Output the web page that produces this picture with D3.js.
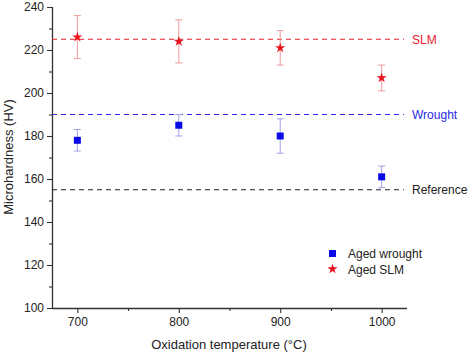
<!DOCTYPE html>
<html><head><meta charset="utf-8">
<script src="https://cdn.jsdelivr.net/npm/d3@7"></script>
<style>body{margin:0;background:#fff;}svg{display:block;font-family:Arial,"Liberation Sans",sans-serif;}</style>
</head><body><svg id="c" width="474" height="357"></svg>
<script>
const temps = [700, 800, 900, 1000];
const wroughtVal = [178, 185, 180, 161];
const wroughtHi = [183, 190, 188, 166];
const wroughtLo = [173, 180, 172, 156];
const slmVal = [226, 224, 221, 207];
const slmHi = [236, 234, 229, 213];
const slmLo = [216, 214, 213, 201];
const refLines = [{label:"SLM", v:225, color:"#e8202a"}, {label:"Wrought", v:190, color:"#2a2ae8"}, {label:"Reference", v:155, color:"#222"}];
const xTicks = [700, 800, 900, 1000];
const yTicks = [100, 120, 140, 160, 180, 200, 220, 240];

const svg = d3.select("#c");
const x = d3.scaleLinear().domain([675, 1025]).range([52, 407]);
const y = d3.scaleLinear().domain([100, 240]).range([308, 7]);

// axes
const gx = svg.append("g").attr("transform","translate(0,308)");
gx.call(d3.axisBottom(x).tickValues(xTicks).tickSize(5).tickPadding(4).tickFormat(d3.format("d")));
gx.append("g").call(d3.axisBottom(x).tickValues([750,850,950]).tickSize(3).tickFormat(""));
const gy = svg.append("g").attr("transform","translate(52,0)");
gy.call(d3.axisLeft(y).tickValues(yTicks).tickSize(5).tickPadding(3));
gy.append("g").call(d3.axisLeft(y).tickValues(d3.range(110,240,20)).tickSize(3).tickFormat(""));
svg.selectAll(".domain").attr("stroke","#333").attr("stroke-width",1.3);
svg.selectAll(".tick line").attr("stroke","#333").attr("stroke-width",1.1);
svg.selectAll(".tick text").attr("font-size",12).attr("fill","#222");
gy.select(".domain").attr("d","M0.5,7V308");
gx.select(".domain").attr("d","M52,0.5H407");
svg.selectAll("g g .domain").remove();

// reference lines
refLines.forEach(r=>{
  svg.append("line").attr("x1",x(675)).attr("x2",x(1022)).attr("y1",y(r.v)).attr("y2",y(r.v))
    .attr("stroke",r.color).attr("stroke-width",1.2).attr("stroke-dasharray","5,4");
  svg.append("text").attr("x",412).attr("y",y(r.v)+4.5).attr("font-size",12).attr("fill",r.color).text(r.label);
});

// error bars
function errBars(vals, hi, lo, color){
  temps.forEach((t,i)=>{
    const g = svg.append("g").attr("stroke",color).attr("stroke-width",1);
    g.append("line").attr("x1",x(t)).attr("x2",x(t)).attr("y1",y(hi[i])).attr("y2",y(lo[i]));
    g.append("line").attr("x1",x(t)-3.5).attr("x2",x(t)+3.5).attr("y1",y(hi[i])).attr("y2",y(hi[i]));
    g.append("line").attr("x1",x(t)-3.5).attr("x2",x(t)+3.5).attr("y1",y(lo[i])).attr("y2",y(lo[i]));
  });
}
errBars(wroughtVal, wroughtHi, wroughtLo, "#a0a0ec");
errBars(slmVal, slmHi, slmLo, "#f09a9a");

const star = d3.symbol().type(d3.symbolStar).size(32);
svg.selectAll(".sq").data(temps).enter().append("rect")
  .attr("x",(d)=>x(d)-3.5).attr("y",(d,i)=>y(wroughtVal[i])-3.5).attr("width",7).attr("height",7).attr("fill","#0a0ae6");
svg.selectAll(".st").data(temps).enter().append("path")
  .attr("d",star).attr("transform",(d,i)=>`translate(${x(d)},${y(slmVal[i])})`).attr("fill","#e8141e");

// legend
svg.append("rect").attr("x",329).attr("y",250).attr("width",7).attr("height",7).attr("fill","#0a0ae6");
svg.append("path").attr("d",star).attr("transform","translate(332.5,269)").attr("fill","#e8141e");
svg.append("text").attr("x",348).attr("y",258).attr("font-size",12).attr("fill","#222").text("Aged wrought");
svg.append("text").attr("x",348).attr("y",274).attr("font-size",12).attr("fill","#222").text("Aged SLM");

// axis titles
svg.append("text").attr("x",229).attr("y",349).attr("text-anchor","middle").attr("font-size",13).attr("fill","#222").text("Oxidation temperature (°C)");
svg.append("text").attr("transform","translate(13,157) rotate(-90)").attr("text-anchor","middle").attr("font-size",13).attr("fill","#222").text("Microhardness (HV)");
</script></body></html>
